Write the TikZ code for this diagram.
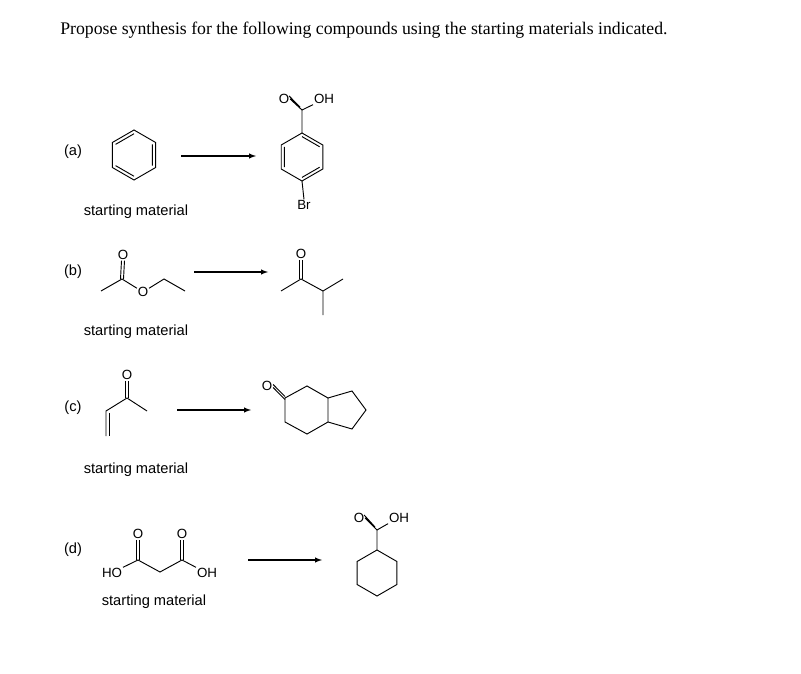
\documentclass[tikz,border=0pt]{standalone}
\usepackage{fontspec}
\setmainfont{Liberation Serif}
\newfontfamily\arial{Liberation Sans}
\usetikzlibrary{calc}
\begin{document}
\begin{tikzpicture}[x=0.75pt,y=-0.75pt,
  bond/.style={line width=0.7pt},
  rxn/.style={line width=0.8pt,-{latex}},
  atom/.style={font=\arial\fontsize{10}{12}\selectfont,inner sep=0.5pt},
  lab/.style={font=\arial\fontsize{11}{13}\selectfont,inner sep=0},
  title/.style={font=\fontsize{13.3}{16}\selectfont,inner sep=0}]
\useasboundingbox (0,0) rectangle (801,674);
\node[title,anchor=west] (t) at (60,30) {Propose synthesis for the following compounds using the starting materials indicated.};
% (a)
\node[lab] (la) at (73,152) {(a)};
\foreach \i in {0,...,5}{\coordinate (b\i) at ($(134,155)+(90+60*\i:18.75pt)$);}
\draw[bond] (b0)--(b1)--(b2)--(b3)--(b4)--(b5)--cycle;
\draw[bond] ($(b0)!0.15!(134,155)$)--($(b1)!0.15!(134,155)$) ($(b2)!0.15!(134,155)$)--($(b3)!0.15!(134,155)$) ($(b4)!0.15!(134,155)$)--($(b5)!0.15!(134,155)$);
\coordinate (aS) at (181,156); \coordinate (aE) at (256,156);
\draw[rxn] (aS)--(aE);
\foreach \i in {0,...,5}{\coordinate (p\i) at ($(302,157)+(90+60*\i:18pt)$);}
\draw[bond] (p0)--(p1)--(p2)--(p3)--(p4)--(p5)--cycle;
\draw[bond] ($(p1)!0.15!(302,157)$)--($(p2)!0.15!(302,157)$) ($(p3)!0.15!(302,157)$)--($(p4)!0.15!(302,157)$) ($(p5)!0.15!(302,157)$)--($(p0)!0.15!(302,157)$);
\coordinate (pc) at (302,110);
\node[atom] (pO) at (284,99) {O};
\node[atom] (pOH) at (324,99) {OH};
\node[atom] (pBr) at (304,205) {Br};
\draw[bond] (302,133)--(pc)--(pOH.south west);
\draw[bond] (pc)--(pO.east) ($(pc)+(-2,-3)$)--($(pO.east)+(-1,-3)$);
\draw[bond] (302,181)--(pBr.north);
\node[lab] (sa) at (136,212) {starting material};
% (b)
\node[lab] (lb) at (73,272) {(b)};
\node[atom] (bO) at (123,255) {O};
\node[atom] (bO2) at (143,292) {O};
\coordinate (b1a) at (101,291); \coordinate (bC) at (122,279);
\coordinate (b4a) at (164,279); \coordinate (b5a) at (185,291);
\draw[bond] (b1a)--(bC)--(bO2)--(b4a)--(b5a);
\draw[bond] ($(bC)+(-1.5,0)$)--($(bO.south)+(-1.5,0)$) ($(bC)+(1.5,0)$)--($(bO.south)+(1.5,0)$);
\coordinate (bS) at (194,272); \coordinate (bE) at (268,272);
\draw[rxn] (bS)--(bE);
\node[atom] (kO) at (301,254) {O};
\coordinate (k1) at (281,291); \coordinate (kC) at (301,279);
\coordinate (k3) at (323,291); \coordinate (k4) at (343,279); \coordinate (k5) at (323,315);
\draw[bond] (k1)--(kC)--(k3)--(k4) (k3)--(k5);
\draw[bond] ($(kC)+(-1.5,0)$)--($(kO.south)+(-1.5,0)$) ($(kC)+(1.5,0)$)--($(kO.south)+(1.5,0)$);
\node[lab] (sb) at (136,332) {starting material};
% (c)
\node[lab] (lc) at (73,408) {(c)};
\node[atom] (cO) at (127,375) {O};
\coordinate (cC) at (127,398); \coordinate (cM) at (147,411);
\coordinate (cV1) at (106,411); \coordinate (cV2) at (106,436);
\draw[bond] (cV2)--(cV1)--(cC)--(cM);
\draw[bond] ($(cV1)+(3,2)$)--($(cV2)+(3,0)$);
\draw[bond] ($(cC)+(-1.5,0)$)--($(cO.south)+(-1.5,0)$) ($(cC)+(1.5,0)$)--($(cO.south)+(1.5,0)$);
\coordinate (cS) at (177,410); \coordinate (cE) at (251,410);
\draw[rxn] (cS)--(cE);
\node[atom] (hO) at (267,386) {O};
\coordinate (h1) at (285,398); \coordinate (h2) at (307,386); \coordinate (h3) at (328,398);
\coordinate (h4) at (328,422); \coordinate (h5) at (307,434); \coordinate (h6) at (285,422);
\coordinate (f1) at (352,391); \coordinate (f2) at (366,410); \coordinate (f3) at (352,429);
\draw[bond] (h1)--(h2)--(h3)--(h4)--(h5)--(h6)--cycle (h3)--(f1)--(f2)--(f3)--(h4);
\draw[bond] ($(h1)+(0,-1.5)$)--($(hO.east)+(0,-1.5)$) ($(h1)+(0,1.5)$)--($(hO.east)+(0,1.5)$);
\node[lab] (sc) at (136,470) {starting material};
% (d)
\node[lab] (ld) at (73,550) {(d)};
\node[atom] (dHO) at (112,573) {HO};
\node[atom] (dOH) at (207,573) {OH};
\node[atom] (dO1) at (138,534) {O};
\node[atom] (dO2) at (182,534) {O};
\coordinate (d1) at (138,560); \coordinate (d2) at (160,572); \coordinate (d3) at (182,560);
\draw[bond] (dHO.north east)--(d1)--(d2)--(d3)--(dOH.north west);
\draw[bond] ($(d1)+(-1.5,0)$)--($(dO1.south)+(-1.5,0)$) ($(d1)+(1.5,0)$)--($(dO1.south)+(1.5,0)$);
\draw[bond] ($(d3)+(-1.5,0)$)--($(dO2.south)+(-1.5,0)$) ($(d3)+(1.5,0)$)--($(dO2.south)+(1.5,0)$);
\coordinate (dS) at (248,560); \coordinate (dE) at (322,560);
\draw[rxn] (dS)--(dE);
\foreach \i in {0,...,5}{\coordinate (q\i) at ($(377,573)+(90+60*\i:17.25pt)$);}
\draw[bond] (q0)--(q1)--(q2)--(q3)--(q4)--(q5)--cycle;
\coordinate (qc) at (377,530);
\node[atom] (qO) at (359,518) {O};
\node[atom] (qOH) at (399,518) {OH};
\draw[bond] (377,550)--(qc)--(qOH.south west);
\draw[bond] (qc)--(qO.east) ($(qc)+(-2,-3)$)--($(qO.east)+(-1,-3)$);
\node[lab] (sd) at (154,602) {starting material};
\end{tikzpicture}
\end{document}
